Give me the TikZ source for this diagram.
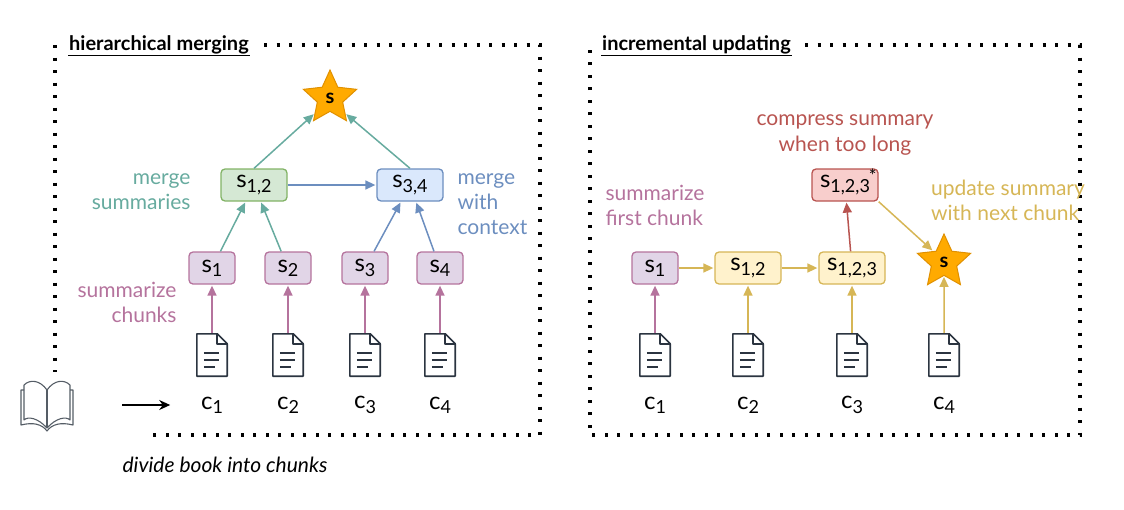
\documentclass[tikz,border=0pt]{standalone}
\usepackage{fontspec}
\setmainfont{Lato}
\usetikzlibrary{positioning,shapes.geometric,arrows.meta}
\definecolor{purpfill}{HTML}{E1D5E7}\definecolor{purpline}{HTML}{B5739D}
\definecolor{grnfill}{HTML}{D5E8D4}\definecolor{grnline}{HTML}{82B366}\definecolor{teal}{HTML}{67AB9F}
\definecolor{blufill}{HTML}{DAE8FC}\definecolor{bluline}{HTML}{6C8EBF}
\definecolor{yelfill}{HTML}{FFF2CC}\definecolor{yelline}{HTML}{D6B656}
\definecolor{redfill}{HTML}{F8CECC}\definecolor{redline}{HTML}{B85450}
\definecolor{starfill}{HTML}{FFAA00}\definecolor{starline}{HTML}{E09000}
\definecolor{ink}{HTML}{2B3440}
\newcommand{\lo}[1]{\raisebox{-0.35ex}{\fontsize{18}{18}\selectfont#1}}
\tikzset{
 box/.style={rounded corners=4pt,line width=1.3pt,minimum height=32pt,inner sep=3pt,font=\fontsize{24}{24}\selectfont},
 sbox/.style={box,fill=purpfill,draw=purpline,minimum width=46pt},
 gbox/.style={box,fill=grnfill,draw=grnline,minimum width=66pt},
 bbox/.style={box,fill=blufill,draw=bluline,minimum width=66pt},
 ybox/.style={box,fill=yelfill,draw=yelline,minimum width=66pt},
 rbox/.style={box,fill=redfill,draw=redline,minimum width=66pt},
 goal/.style={star,star points=5,star point ratio=2.1,fill=starfill,draw=starline,line width=1pt,minimum size=56pt,inner sep=0pt,font=\bfseries\fontsize{20}{20}\selectfont},
 doc/.style={minimum width=30pt,minimum height=42pt,inner sep=0pt},
 docline/.style={draw=ink,line width=1.6pt,line join=round},
 clabel/.style={font=\fontsize{24}{24}\selectfont},
 note/.style={font=\fontsize{21}{25}\selectfont,align=#1},
 link/.style={line width=1.5pt,-{Triangle[length=10pt,width=9pt]},shorten >=1pt},
 frame/.style={line width=3.2pt,dash pattern=on 3pt off 9.5pt},
 title/.style={font=\bfseries\fontsize{20}{20}\selectfont,anchor=west,inner sep=1pt},
}
\begin{document}
\begin{tikzpicture}[x=1pt,y=-1pt]
 \useasboundingbox (0,0) rectangle (1124,509);
 % frames
 \draw[frame] (264,45) -- (540,45) -- (540,435) -- (150,435);
 \draw[frame] (55,45) -- (55,372);
 \node[title] (t1) at (68,45) {hierarchical merging};
 \draw[line width=1.2pt] (t1.south west) -- (t1.south east);
 \draw[frame] (805,45) -- (1080,45) -- (1080,435) -- (590,435) -- (590,45);
 \node[title] (t2) at (601,45) {incremental updating};
 \draw[line width=1.2pt] (t2.south west) -- (t2.south east);

 % hierarchical merging
 \node[goal] (sL) at (330,98) {s};
 \node[gbox] (s12) at (254,185) {s\lo{1,2}};
 \node[bbox] (s34) at (410,185) {s\lo{3,4}};
 \foreach \i/\x in {1/212,2/288,3/365,4/440} {
 \node[sbox] (s\i) at (\x,268) {s\lo{\i}};
 \node[doc] (d\i) at (\x,355) {};
 \node[clabel] (c\i) at (\x,405) {c\lo{\i}};
 \draw[link,purpline] (d\i) -- (s\i);
 }
 \draw[link,teal] (s1) -- (s12);
 \draw[link,teal] (s2) -- (s12);
 \draw[link,bluline] (s3) -- (s34);
 \draw[link,bluline] (s4) -- (s34);
 \draw[link,bluline] (s12) -- (s34);
 \draw[link,teal] (s12.north) -- (sL.south west);
 \draw[link,teal] (s34.north) -- (sL.south east);
 \node[note=right,teal,anchor=east] (mrg) at (194,192) {merge\\summaries};
 \node[note=left,bluline,anchor=west] (ctx) at (454,204) {merge\\with\\context};
 \node[note=right,purpline,anchor=east] (sum) at (180,302) {summarize\\chunks};

 % book and split
 \node[minimum width=50pt,minimum height=42pt] (book) at (47,400) {};
 \begin{scope}[docline,line width=1.1pt,draw=ink!80]
 \draw (47,428) .. controls (38,418) and (28,416) .. (24,420) -- (24,385) .. controls (30,379) and (40,380) .. (47,390) .. controls (54,380) and (64,379) .. (70,385) -- (70,420) .. controls (66,416) and (56,418) .. (47,428);
 \draw (47,390) -- (47,428);
 \draw (24,390) -- (21,390) -- (21,425) .. controls (33,422) and (42,424) .. (47,431) .. controls (52,424) and (61,422) .. (73,425) -- (73,390) -- (70,390);
 \end{scope}
 \draw[line width=1.5pt,-{Stealth[length=11pt,width=10pt]}] (book.east) ++(50,5) coordinate (ba) (ba) -- ++(48,0) coordinate (bb);
 \node[font=\itshape\fontsize{21}{21}\selectfont] (divide) at (225,465) {divide book into chunks};

 % incremental updating
 \node[sbox] (r1) at (655,268) {s\lo{1}};
 \node[ybox] (r12) at (748,268) {s\lo{1,2}};
 \node[ybox] (r123) at (852,268) {s\lo{1,2,3}};
 \node[rbox] (rc) at (845,185) {s\lo{1,2,3}};
 \node[font=\fontsize{18}{18}\selectfont,inner sep=0pt] (ast) at ([xshift=-6pt,yshift=-7pt]rc.north east) {*};
 \node[goal] (sR) at (944,262) {s};
 \foreach \i/\x in {1/655,2/748,3/852,4/944} {
 \node[doc] (e\i) at (\x,355) {};
 \node[clabel] (f\i) at (\x,405) {c\lo{\i}};
 }
 \draw[link,purpline] (e1) -- (r1);
 \foreach \i/\t in {2/r12,3/r123,4/sR} \draw[link,yelline] (e\i) -- (\t);
 \draw[link,yelline] (r1) -- (r12);
 \draw[link,yelline] (r12) -- (r123);
 \draw[link,redline] (r123) -- (rc);
 \draw[link,yelline] (rc.south east) -- (sR.north west);
 \node[note=left,purpline] (first) at (655,205) {summarize\\first chunk};
 \node[note=center,redline] (comp) at (845,135) {compress summary\\when too long};
 \node[note=left,yelline] (upd) at (1008,200) {update summary\\with next chunk};

 % document icons
 \foreach \n in {d1,d2,d3,d4,e1,e2,e3,e4} {
 \draw[docline] (\n.north west) -- ([xshift=-10pt]\n.north east) -- ([yshift=-10pt]\n.north east) -- (\n.south east) -- (\n.south west) -- cycle;
 \draw[docline] ([xshift=-10pt]\n.north east) -- ([xshift=-10pt,yshift=-10pt]\n.north east) -- ([yshift=-10pt]\n.north east);
 \draw[docline] ([xshift=7pt,yshift=2pt]\n.west) -- ([xshift=-8pt,yshift=2pt]\n.east);
 \draw[docline] ([xshift=7pt,yshift=-5pt]\n.west) -- ([xshift=-8pt,yshift=-5pt]\n.east);
 \draw[docline] ([xshift=7pt,yshift=-12pt]\n.west) -- ([xshift=-12pt,yshift=-12pt]\n.east);
 }
\end{tikzpicture}
\end{document}
